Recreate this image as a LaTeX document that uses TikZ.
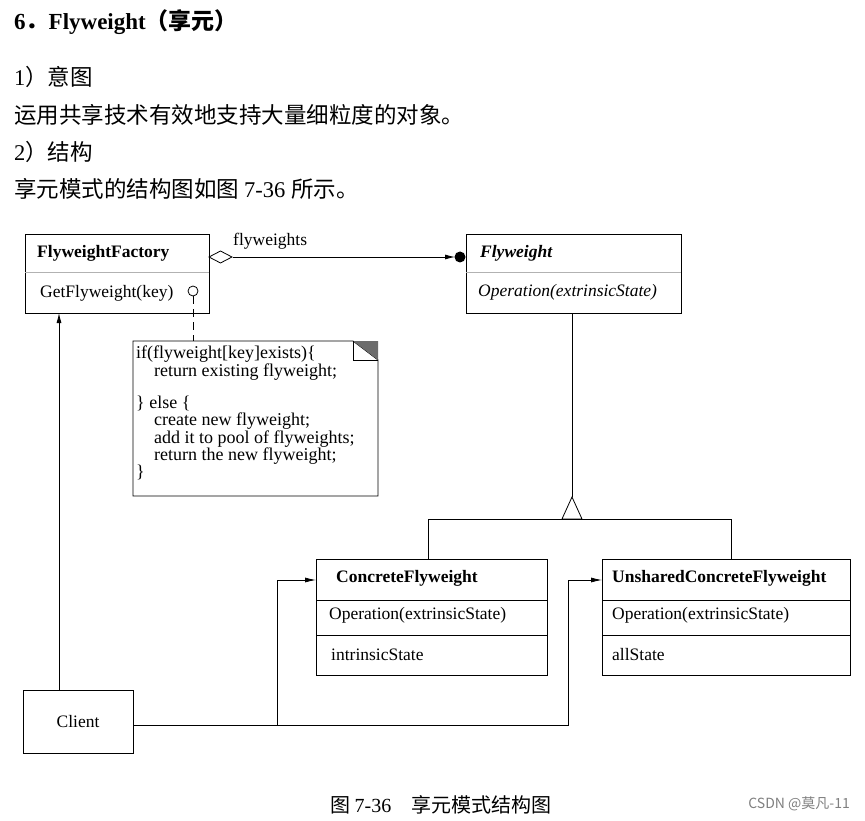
\documentclass[tikz,border=0pt]{standalone}
\usepackage{fontspec}
\setmainfont{Liberation Serif}
\newfontfamily\cjk{Noto Sans CJK SC}
\newfontfamily\wmfont{Noto Sans CJK SC}
\usetikzlibrary{arrows.meta}
\begin{document}
\begin{tikzpicture}[x=1pt,y=-1pt,
  box/.style={draw,line width=0.8pt},
  ln/.style={line width=0.8pt},
  txt/.style={anchor=west,inner sep=0pt,font=\fontsize{17.5}{19}\selectfont},
  head/.style={anchor=west,inner sep=0pt,font=\fontsize{22.5}{24}\selectfont}]
\useasboundingbox (0,0) rectangle (865,821);
\fill[white] (0,0) rectangle (865,821);
% header
\node[head,font=\fontsize{23}{25}\selectfont\bfseries] (h0) at (14,22) {6\cjk\bfseries．\rmfamily\bfseries Flyweight\cjk\bfseries（享元）};
\node[head] (h1) at (14,77) {1\cjk）意图};
\node[head] (h2) at (14,115) {\cjk 运用共享技术有效地支持大量细粒度的对象。};
\node[head] (h3) at (14,152) {2\cjk）结构};
\node[head] (h4) at (14,189) {\cjk 享元模式的结构图如图 \rmfamily 7-36 \cjk 所示。};
% FlyweightFactory
\draw[box] (25,234) rectangle (209,313);
\coordinate (ffS) at (59,313);
\draw[ln,gray!60] (25,272) -- (209,272);
\node[txt,font=\fontsize{17.5}{19}\selectfont\bfseries] (fft) at (37,253) {FlyweightFactory};
\node[txt] (ffo) at (40,293) {GetFlyweight(key)};
\draw[line width=0.8pt] (193,291) circle (5);
% Flyweight
\draw[box] (466,234) rectangle (681,313);
\draw[ln,gray!60] (466,272) -- (681,272);
\node[txt,font=\fontsize{17.5}{19}\selectfont\bfseries\itshape] (fwt) at (480,253) {Flyweight};
\node[txt,font=\fontsize{17.5}{19}\selectfont\itshape] (fwo) at (478,292) {Operation(extrinsicState)};
% aggregation
\draw[ln] (209,257) -- (220.5,251) -- (232,257) -- (220.5,263) -- cycle;
\node[inner sep=0pt] (dia) at (232,257) {};
\draw[ln,-{Latex[length=10pt,width=5pt]}] (dia) -- (455,257);
\fill (460,257) circle (5.5);
\node[txt] (fl) at (233,241) {flyweights};
% note
\draw[box] (133,341) -- (353,341) -- (378,360) -- (378,496) -- (133,496) -- cycle;
\fill[gray!85!black] (353,341) -- (378,341) -- (378,360) -- cycle;
\draw[ln] (353,341) -- (353,360) -- (378,360);
\draw[ln,dash pattern=on 8pt off 5pt] (193,296) -- (193,341);
\node[txt,font=\fontsize{18}{17.3}\selectfont,anchor=north west,align=left] (note) at (136,346) {if(flyweight[key]exists)\{\\
\hspace*{18pt}return existing flyweight;\\[15pt]
\} else \{\\
\hspace*{18pt}create new flyweight;\\
\hspace*{18pt}add it to pool of flyweights;\\
\hspace*{18pt}return the new flyweight;\\
\}};
% inheritance
\draw[ln] (572,313) -- (572,497);
\draw[ln] (572,497) -- (562,519) -- (582,519) -- cycle;
\draw[ln] (428,519) -- (731,519);
\draw[ln] (428,519) -- (428,559);
\draw[ln] (731,519) -- (731,559);
% ConcreteFlyweight
\draw[box] (316,559) rectangle (547,675);
\draw[ln] (316,600) -- (547,600);
\draw[ln] (316,635) -- (547,635);
\node[txt,font=\fontsize{17.5}{19}\selectfont\bfseries] (cft) at (336,578) {ConcreteFlyweight};
\node[txt] (cfo) at (329,615) {Operation(extrinsicState)};
\node[txt] (cfi) at (331,655) {intrinsicState};
% Unshared
\draw[box] (602,559) rectangle (850,675);
\draw[ln] (602,600) -- (850,600);
\draw[ln] (602,635) -- (850,635);
\node[txt,font=\fontsize{17.5}{19}\selectfont\bfseries] (uft) at (612,578) {UnsharedConcreteFlyweight};
\node[txt] (ufo) at (612,615) {Operation(extrinsicState)};
\node[txt] (ufa) at (612,655) {allState};
% Client
\node[box,minimum width=110pt,minimum height=63pt,inner sep=0pt,font=\fontsize{17.5}{19}\selectfont] (cl) at (78,721.5) {Client};
\draw[ln,-{Latex[length=10pt,width=5pt]}] (59,690) -- (ffS);
\draw[ln,-{Latex[length=11pt,width=5pt]}] (133,725) -- (277,725) -- (277,580) -- (316,580);
\draw[ln,-{Latex[length=11pt,width=5pt]}] (277,725) -- (568,725) -- (568,580) -- (602,580);
% caption
\node[inner sep=0pt,anchor=west,font=\fontsize{20}{22}\selectfont] (cap) at (330,805) {\cjk 图 \rmfamily 7-36\hspace{1em}\cjk 享元模式结构图};
\node[inner sep=0pt,anchor=east,text=gray,font=\wmfont\fontsize{14}{16}\selectfont] (wm) at (850,804) {CSDN @莫凡-11};
\end{tikzpicture}
\end{document}
